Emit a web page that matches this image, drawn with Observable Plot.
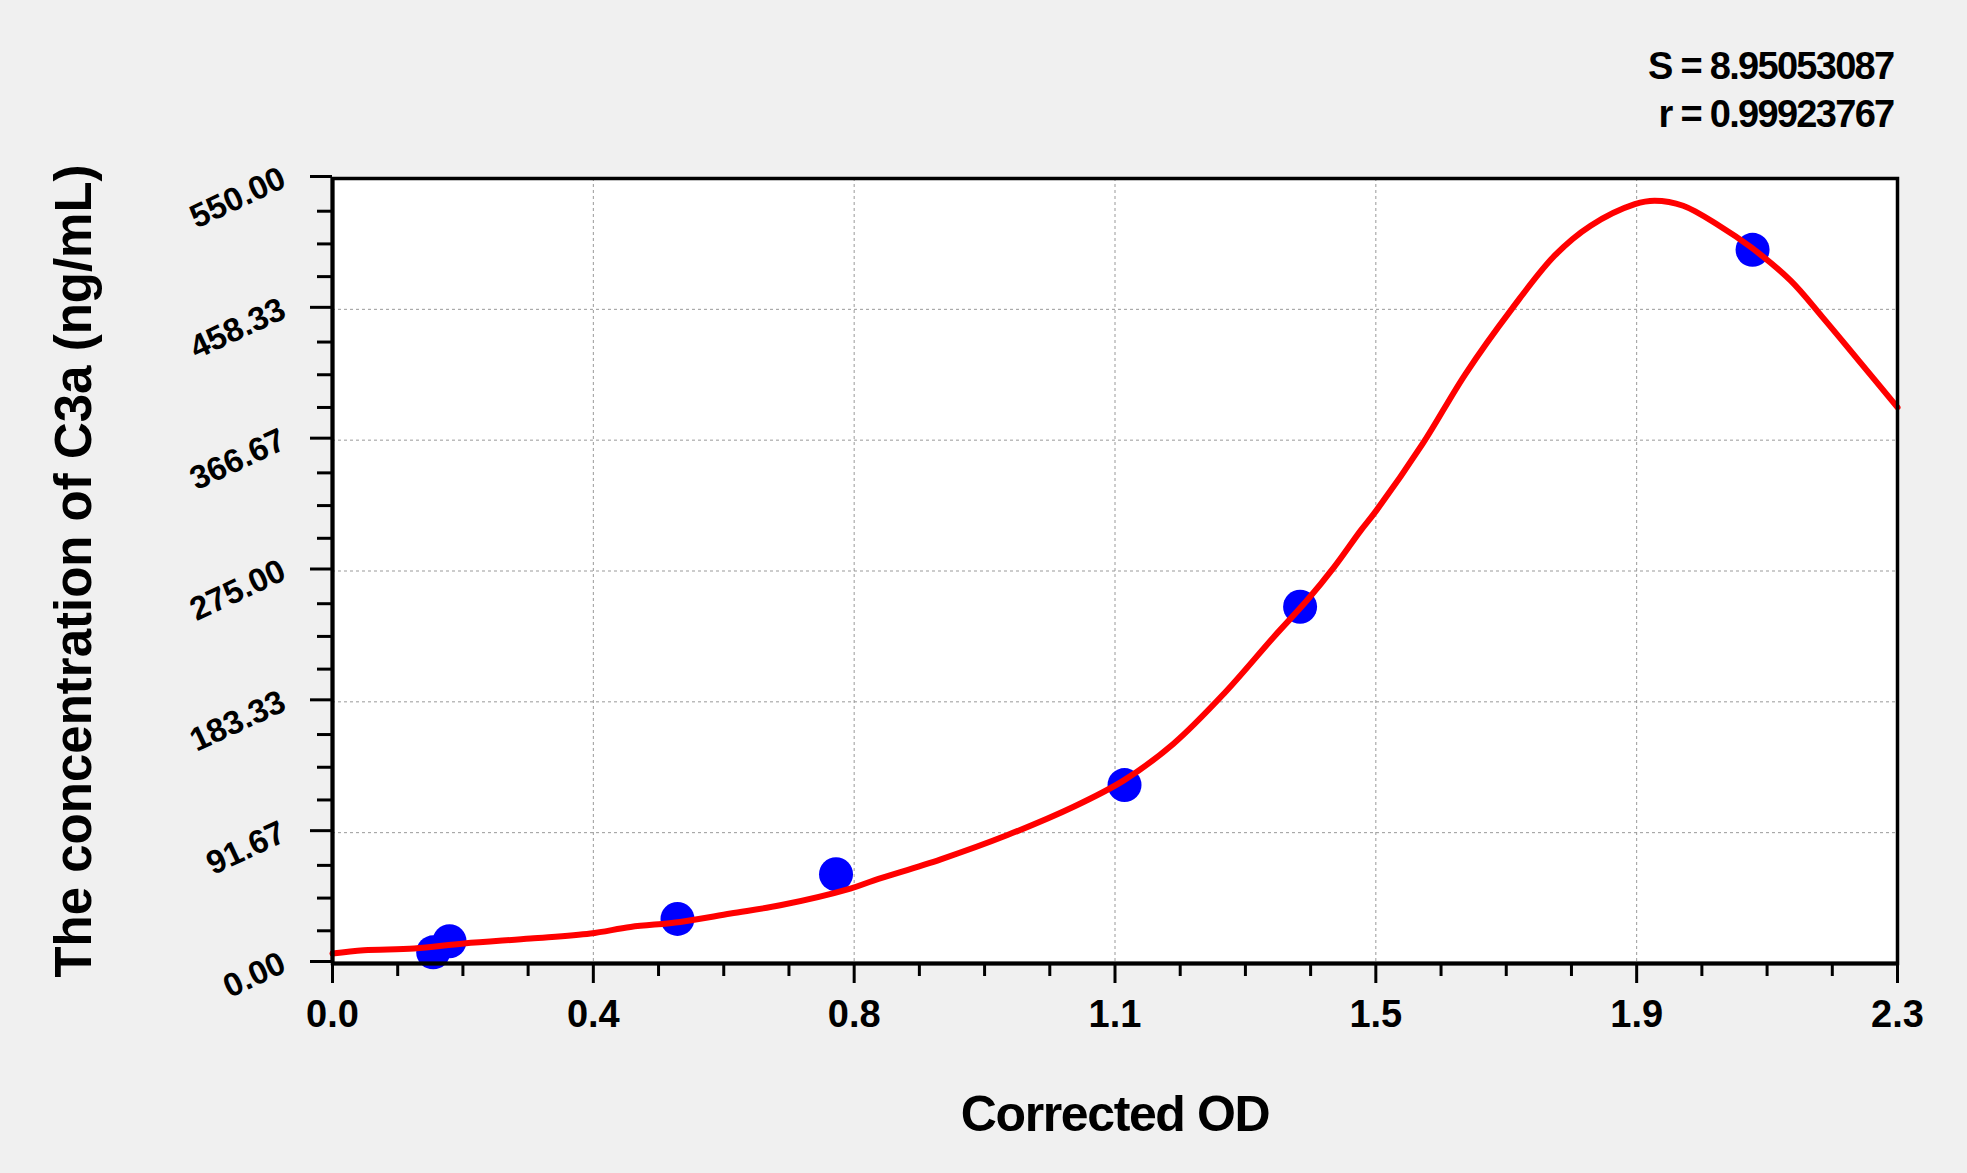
<!DOCTYPE html>
<html>
<head>
<meta charset="utf-8">
<script src="https://cdn.jsdelivr.net/npm/d3@7"></script>
<script src="https://cdn.jsdelivr.net/npm/@observablehq/plot@0.6"></script>
<style>
  html, body { margin: 0; padding: 0; background: #f0f0f0; overflow: hidden; }
  #chart svg { display: block; }
</style>
</head>
<body>
<div id="chart"></div>
<script>
// Standards (measured points)
const standardOD   = [0.148, 0.172, 0.507, 0.740, 1.164, 1.422, 2.087];
const standardConc = [7.8, 15.6, 31.25, 62.5, 125, 250, 500];

// Fitted curve
const curveOD   = [0, 0.046, 0.12, 0.193, 0.291, 0.379, 0.438, 0.511, 0.585, 0.658, 0.761, 0.796, 0.894, 0.992, 1.09, 1.163, 1.236, 1.31, 1.383, 1.432, 1.472, 1.511, 1.534, 1.602, 1.665, 1.733, 1.796, 1.849, 1.914, 1.943, 1.985, 2.038, 2.085, 2.143, 2.19, 2.243, 2.30];
const curveConc = [7.0, 9.3, 10.5, 14, 17.5, 21, 25.6, 29.1, 35, 40.8, 52.5, 58.3, 73, 90, 110, 128.3, 154, 189, 228.6, 254.3, 277.7, 303.3, 317.3, 364, 413, 458.5, 495.9, 516.9, 532, 534.4, 530.9, 516.9, 501.7, 478.4, 452.7, 422.4, 389.7];

// Axis ticks and labels
const xTicks = [0, 0.38333, 0.76667, 1.15, 1.53333, 1.91667, 2.3];
const xTickLabels = ["0.0", "0.4", "0.8", "1.1", "1.5", "1.9", "2.3"];
const yTicks = [0, 91.667, 183.333, 275, 366.667, 458.333, 550];
const yTickLabels = ["0.00", "91.67", "183.33", "275.00", "366.67", "458.33", "550.00"];

const xTitle = "Corrected OD";
const yTitle = "The concentration of C3a (ng/mL)";
const fitStats = ["S = 8.95053087", "r = 0.99923767"];

// minor ticks: quarters between majors
const xMinor = [];
for (let i = 0; i < xTicks.length - 1; i++) for (let k = 1; k < 4; k++) xMinor.push(xTicks[i] + (xTicks[i + 1] - xTicks[i]) * k / 4);
const yMinor = [];
for (let i = 0; i < yTicks.length - 1; i++) for (let k = 1; k < 4; k++) yMinor.push(yTicks[i] + (yTicks[i + 1] - yTicks[i]) * k / 4);

const xLab = new Map(xTicks.map((t, i) => [t, xTickLabels[i]]));
const yLab = new Map(yTicks.map((t, i) => [t, yTickLabels[i]]));

const points = standardOD.map((x, i) => ({x, y: standardConc[i]}));
const curve = curveOD.map((x, i) => ({x, y: curveConc[i]}));

const FONT = "'Liberation Sans', Arial, Helvetica, sans-serif";

const chart = Plot.plot({
  width: 1967,
  height: 1173,
  marginLeft: 332,
  marginRight: 70,
  marginTop: 178,
  marginBottom: 210,
  style: {background: "#f0f0f0", fontFamily: FONT, fontWeight: "bold", color: "black", overflow: "visible"},
  x: {domain: [0, 2.3], label: null},
  y: {domain: [0, 550], label: null},
  marks: [
    Plot.frame({fill: "white", stroke: "none"}),
    Plot.gridX(xTicks.slice(1, -1), {stroke: "#999", strokeOpacity: 1, strokeWidth: 1, strokeDasharray: "3,3"}),
    Plot.gridY(yTicks.slice(1, -1), {stroke: "#999", strokeOpacity: 1, strokeWidth: 1, strokeDasharray: "3,3"}),
    // minor ticks
    Plot.axisX({ticks: xMinor, tickSize: 13, strokeWidth: 3, fill: "none", label: null}),
    Plot.axisY({ticks: yMinor, tickSize: 15, strokeWidth: 3, fill: "none", label: null}),
    // major ticks + labels
    Plot.axisX({ticks: xTicks, tickSize: 20, tickPadding: 17, strokeWidth: 3, tickFormat: d => xLab.get(d), fontSize: 38, fontWeight: "bold", label: null}),
    Plot.axisY({ticks: yTicks, tickSize: 22, tickPadding: 27, strokeWidth: 3, tickRotate: -25, dy: -2, tickFormat: d => yLab.get(d), fontSize: 33, fontWeight: "bold", label: null}),
    // data
    Plot.dot(points, {x: "x", y: "y", r: 17, fill: "#0000ff", stroke: "none"}),
    Plot.line(curve, {x: "x", y: "y", stroke: "#ff0000", strokeWidth: 6, curve: "catmull-rom"}),
    // frame + axis lines
    Plot.frame({stroke: "black", strokeWidth: 3.5}),
    Plot.ruleX([0], {stroke: "black", strokeWidth: 4}),
    Plot.ruleY([0], {stroke: "black", strokeWidth: 4}),
    // titles
    Plot.text([yTitle], {frameAnchor: "left", rotate: -90, dx: -242, lineAnchor: "bottom", textAnchor: "middle", fontSize: 51, fontWeight: "bold"}),
    Plot.text([xTitle], {frameAnchor: "bottom", dy: 167, lineAnchor: "bottom", textAnchor: "middle", fontSize: 50, fontWeight: "bold"}),
    Plot.text([fitStats.join("\n")], {frameAnchor: "top-right", dx: -4, dy: -52, lineAnchor: "bottom", textAnchor: "end", lineHeight: 1.263, fontSize: 38, fontWeight: "bold"})
  ]
});
// tighter letter spacing for the condensed-looking texts
d3.select(chart).selectAll("text").each(function () {
  const t = this.textContent;
  if (t.startsWith("S =")) {
    this.setAttribute("letter-spacing", "-1.7");
  } else if (t === xTitle) {
    this.setAttribute("letter-spacing", "-1.4");
  }
});
document.getElementById("chart").appendChild(chart);
</script>
</body>
</html>
